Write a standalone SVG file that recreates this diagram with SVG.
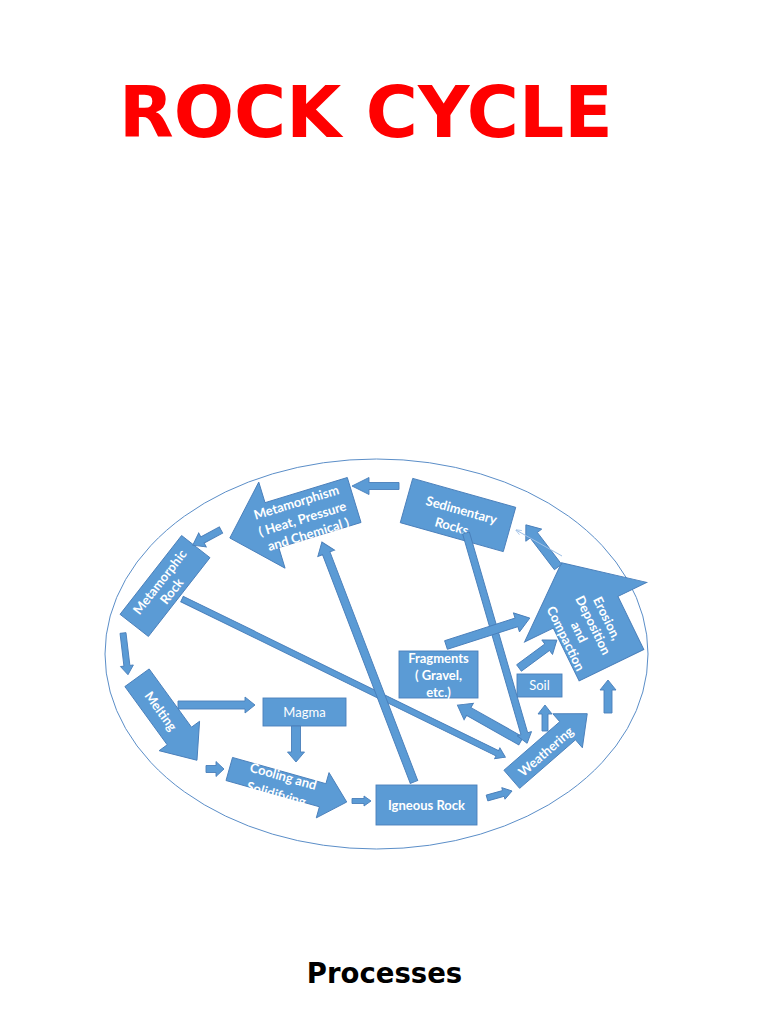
<svg xmlns="http://www.w3.org/2000/svg" width="768" height="1024" viewBox="0 0 768 1024">
<style>
.s{fill:#5b9bd5;stroke:#4a7fba;stroke-width:0.9}
.t{fill:#ffffff;font-family:Lato,"Open Sans",sans-serif;font-size:13px;text-anchor:middle}
.b{font-weight:bold}
.c path{fill:#5b9bd5;stroke:#4a7fba;stroke-width:0.9}
</style>
<defs>
<marker id="thin" viewBox="0 0 10 10" refX="9" refY="5" markerWidth="6" markerHeight="6" orient="auto"><path d="M0,1 L10,5 L0,9" fill="none" stroke="#9dbfe6" stroke-width="1.2"/></marker>
</defs>
<rect width="768" height="1024" fill="#ffffff"/>
<text x="119" y="137" font-family="DejaVu Sans" font-weight="bold" font-size="71" fill="#ff0000">ROCK CYCLE</text>
<text x="384.5" y="983" font-family="DejaVu Sans" font-weight="bold" font-size="27.5" fill="#000000" text-anchor="middle">Processes</text>
<ellipse cx="376.5" cy="654" rx="271.5" ry="195" fill="none" stroke="#5b8ec8" stroke-width="1"/>

<g id="metamorphism" transform="translate(292,519) rotate(-17)">
<path class="s" d="M-65,0 L-21,-45 L-21,-23.5 L65,-23.5 L65,23.5 L-21,23.5 L-21,45 Z"/>
<text class="t b" x="9" y="-10">Metamorphism</text>
<text class="t b" x="10" y="7.5">( Heat, Pressure</text>
<text class="t b" x="11" y="24">and Chemical )</text>
</g>

<g id="metamorphic-rock" transform="translate(165,586) rotate(-52)">
<rect class="s" x="-50" y="-18" width="100" height="36"/>
<text class="t b" x="0" y="-2" font-size="14">Metamorphic</text>
<text class="t b" x="0" y="13" font-size="14">Rock</text>
</g>

<g id="melting" transform="translate(167,719) rotate(54)">
<path class="s" d="M-51,-15 L21,-15 L21,-25 L51,0 L21,25 L21,15 L-51,15 Z"/>
<text class="t b" x="-10" y="5" font-size="14">Melting</text>
</g>

<g id="magma">
<rect class="s" x="263" y="698" width="83" height="28"/>
<text class="t" x="304.5" y="717" font-size="14">Magma</text>
</g>

<g id="cooling" transform="translate(288,785.5) rotate(15.7)">
<path class="s" d="M-61,-12 L36,-12 L36,-23.5 L61,0 L36,23.5 L36,12 L-61,12 Z"/>
<text class="t b" x="-7" y="-3" font-size="14">Cooling and</text>
<text class="t b" x="-9" y="16" font-size="14">Solidifying</text>
</g>

<g id="igneous-rock">
<rect class="s" x="376" y="785" width="101" height="40"/>
<text class="t b" x="426.5" y="810">Igneous Rock</text>
</g>

<g id="weathering" transform="translate(549.5,746.5) rotate(-41)">
<path class="s" d="M-50,-12 L24,-12 L24,-22.5 L50,0 L24,22.5 L24,12 L-50,12 Z"/>
<text class="t b" x="-6" y="6" font-size="14">Weathering</text>
</g>

<g id="soil">
<rect class="s" x="517" y="674" width="45" height="23"/>
<text class="t" x="539.5" y="690">Soil</text>
</g>

<g id="fragments">
<rect class="s" x="399" y="651" width="79" height="47"/>
<text class="t b" x="438.5" y="663">Fragments</text>
<text class="t b" x="438.5" y="680">( Gravel,</text>
<text class="t b" x="438.5" y="697">etc.)</text>
</g>

<g id="erosion" transform="translate(586.5,614) rotate(64)">
<path class="s" d="M-57,0 L-2,-68 L-2,-36 L57,-36 L57,36 L-2,36 L-2,68 Z"/>
<text class="t b" x="13" y="-12" font-size="14">Erosion,</text>
<text class="t b" x="13" y="3.5" font-size="14">Deposition</text>
<text class="t b" x="13" y="19" font-size="14">and</text>
<text class="t b" x="13" y="34" font-size="14">Compaction</text>
</g>

<g id="sedimentary-rocks" transform="translate(458,515) rotate(15.7)">
<rect class="s" x="-53.5" y="-23" width="107" height="46"/>
<text class="t b" x="2" y="-1" font-size="14.5">Sedimentary</text>
<text class="t b" x="-3" y="17" font-size="14.5">Rocks</text>
</g>

<g id="connectors" class="c">
<path transform="translate(399,486) rotate(180)" d="M0,-3.5 H30 V-8.5 L47,0 L30,8.5 V3.5 H0Z"/>
<path transform="translate(221,530) rotate(151.8)" d="M0,-3.5 H21 V-8 L32,0 L21,8 V3.5 H0Z"/>
<path transform="translate(182,599) rotate(26.07)" d="M0,-3 H351 V-6 L360,0 L351,6 V3 H0Z"/>
<path transform="translate(123,633) rotate(83.2)" d="M0,-3 H33 V-6.5 L42,0 L33,6.5 V3 H0Z"/>
<path transform="translate(178,705)" d="M0,-4 H67 V-8 L77,0 L67,8 V4 H0Z"/>
<path transform="translate(296,726) rotate(90)" d="M0,-4.5 H26 V-8.5 L36,0 L26,8.5 V4.5 H0Z"/>
<path transform="translate(206,769)" d="M0,-3.5 H10 V-7.5 L18,0 L10,7.5 V3.5 H0Z"/>
<path transform="translate(352,801)" d="M0,-2.5 H12 V-5 L19,0 L12,5 V2.5 H0Z"/>
<path transform="translate(414,782) rotate(-111)" d="M0,-4 H245 V-9 L257,0 L245,9 V4 H0Z"/>
<path transform="translate(487,798) rotate(-15.6)" d="M0,-3 H17 V-6 L26,0 L17,6 V3 H0Z"/>
<path transform="translate(545,731) rotate(-90)" d="M0,-3 H17 V-7 L26,0 L17,7 V3 H0Z"/>
<path transform="translate(519,668) rotate(-36.4)" d="M0,-4 H35 V-9 L47,0 L35,9 V4 H0Z"/>
<path transform="translate(521,741) rotate(-150.6)" d="M0,-4.5 H60 V-9.5 L73,0 L60,9.5 V4.5 H0Z"/>
<path transform="translate(466,533) rotate(73.8)" d="M0,-3.5 H209 V-7.5 L219,0 L209,7.5 V3.5 H0Z"/>
<path transform="translate(446,645) rotate(-17.8)" d="M0,-4.5 H74 V-10 L88,0 L74,10 V4.5 H0Z"/>
<path transform="translate(608,713) rotate(-90)" d="M0,-4 H23 V-8 L33,0 L23,8 V4 H0Z"/>
<path transform="translate(558,567) rotate(-127.3)" d="M0,-4.5 H40 V-10 L53,0 L40,10 V4.5 H0Z"/>
<line x1="562" y1="556" x2="516" y2="530" stroke="#9dbfe6" stroke-width="1" marker-end="url(#thin)"/>
</g>
</svg>
